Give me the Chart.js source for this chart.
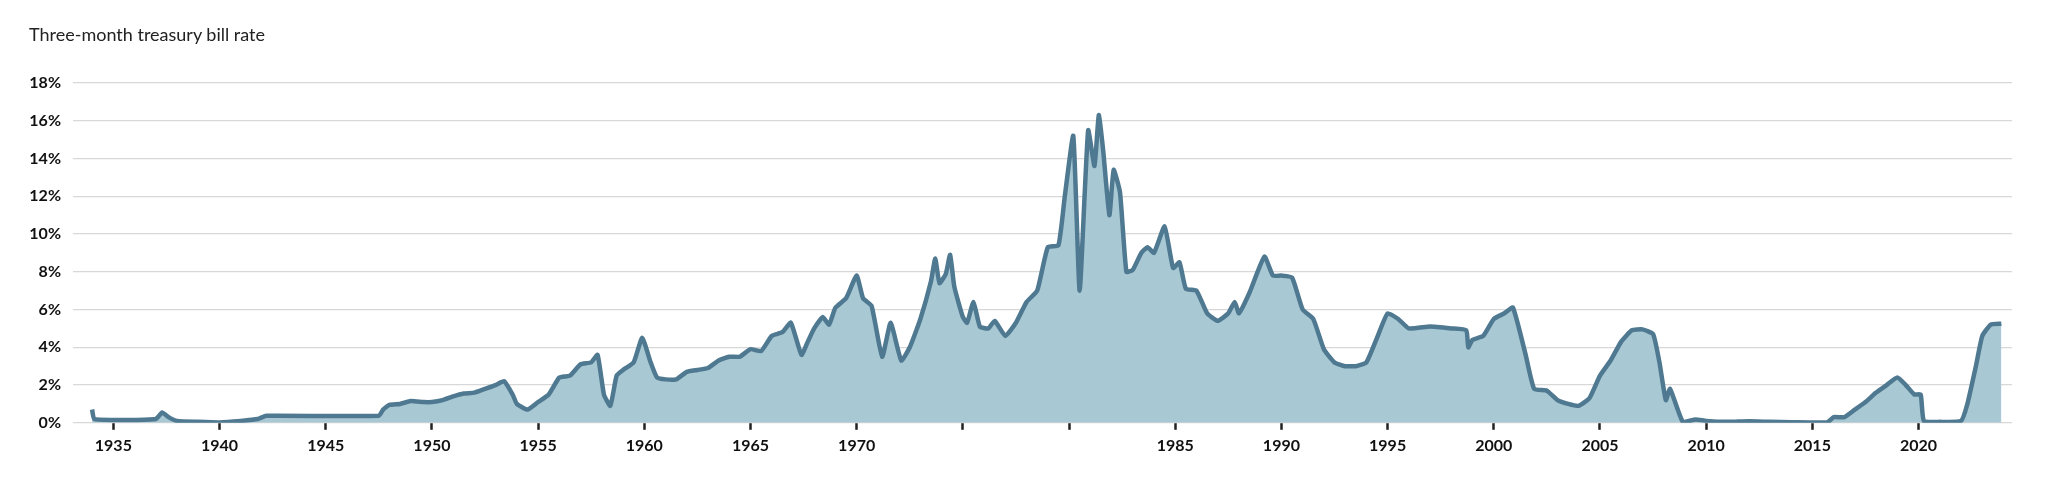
<!DOCTYPE html>
<html>
<head>
<meta charset="utf-8">
<script src="https://cdn.jsdelivr.net/npm/chart.js@4"></script>
<style>
  body{margin:0;background:#fff;}
  #wrap{position:relative;width:2048px;height:487px;}
  #title{position:absolute;left:29px;top:23px;font:18px Lato,"Open Sans",sans-serif;color:#222;}
</style>
</head>
<body>
<div id="wrap">
  <div id="title">Three-month treasury bill rate</div>
  <canvas id="myChart" width="2048" height="487"></canvas>
</div>
<script>
// readings: year (decimal) and rate in %
const years = [1934.0,1934.1,1935,1936,1937.0,1937.3,1937.6,1938,1939,1940,1941,1941.8,1942.2,1947.5,1947.7,1948,1948.5,1949,1949.6,1950,1950.5,1951,1951.5,1952,1952.5,1953,1953.4,1953.8,1954,1954.5,1955,1955.5,1956,1956.5,1957,1957.5,1957.8,1958.1,1958.4,1958.7,1959,1959.5,1959.9,1960.3,1960.6,1961,1961.5,1962,1962.5,1963,1963.5,1964,1964.5,1965,1965.5,1966,1966.5,1966.9,1967.4,1967.7,1968,1968.4,1968.7,1969,1969.5,1970,1970.3,1970.7,1971.2,1971.6,1972.1,1972.5,1973,1973.5,1973.7,1973.9,1974.2,1974.4,1974.6,1975.0,1975.2,1975.5,1975.8,1976.2,1976.5,1977.0,1977.5,1978,1978.5,1979,1979.5,1979.8,1980.2,1980.5,1980.9,1981.2,1981.4,1981.6,1981.9,1982.1,1982.4,1982.7,1983,1983.4,1983.7,1984,1984.5,1984.9,1985.2,1985.5,1986,1986.5,1987,1987.5,1987.8,1988,1988.5,1989.2,1989.6,1990,1990.5,1991,1991.5,1992,1992.5,1993,1993.5,1994,1994.5,1995,1995.5,1996,1997,1998,1998.7,1998.8,1999,1999.5,2000,2000.5,2000.9,2001.5,2001.9,2002.5,2003,2003.5,2004,2004.5,2005,2005.5,2006,2006.5,2007,2007.5,2007.8,2008.1,2008.3,2008.9,2009.5,2010,2011,2012,2013,2014,2015.7,2016,2016.5,2017,2017.5,2018,2018.5,2019,2019.4,2019.8,2020.1,2020.25,2021,2022,2022.3,2022.7,2023,2023.4,2023.9];
const rates = [0.7,0.2,0.15,0.15,0.2,0.55,0.3,0.1,0.05,0.02,0.1,0.2,0.37,0.37,0.7,0.95,1.0,1.15,1.1,1.1,1.2,1.4,1.55,1.6,1.8,2.0,2.2,1.5,1.0,0.7,1.1,1.5,2.4,2.5,3.1,3.2,3.6,1.5,0.9,2.5,2.8,3.2,4.5,3.2,2.4,2.3,2.3,2.7,2.8,2.9,3.3,3.5,3.5,3.9,3.8,4.6,4.8,5.3,3.6,4.3,5.0,5.6,5.2,6.1,6.6,7.8,6.6,6.2,3.5,5.3,3.3,4.0,5.5,7.5,8.7,7.4,7.9,8.9,7.2,5.6,5.3,6.4,5.1,5.0,5.4,4.6,5.3,6.4,7.0,9.3,9.4,12.0,15.2,7.0,15.5,13.6,16.3,14.5,11.0,13.4,12.2,8.0,8.1,9.0,9.3,9.0,10.4,8.2,8.5,7.1,7.0,5.8,5.4,5.8,6.4,5.8,6.9,8.8,7.8,7.8,7.7,6.0,5.5,3.9,3.2,3.0,3.0,3.2,4.5,5.8,5.5,5.0,5.1,5.0,4.9,4.0,4.4,4.6,5.5,5.8,6.1,3.6,1.8,1.7,1.2,1.0,0.9,1.3,2.5,3.3,4.3,4.9,4.95,4.7,3.2,1.2,1.8,0.05,0.18,0.1,0.05,0.08,0.05,0.03,0.02,0.3,0.3,0.7,1.1,1.6,2.0,2.4,2.0,1.5,1.5,0.1,0.05,0.1,1.0,3.0,4.6,5.2,5.25];
const tickYears = [1935,1940,1945,1950,1955,1960,1965,1970,1975,1980,1985,1990,1995,2000,2005,2010,2015,2020];
const unlabeledYears = [1975,1980];

const font = {family: 'Lato, "Open Sans", sans-serif', size: 16, weight: 'bold'};
const config = {
  type: 'line',
  data: {
    datasets: [{
      label: 'Three-month treasury bill rate',
      data: years.map((y, i) => ({x: y, y: rates[i]})),
      borderColor: '#4f7891',
      backgroundColor: '#a8c9d4',
      borderWidth: 4.5,
      fill: 'origin',
      pointRadius: 0,
      tension: 0.15
    }]
  },
  options: {
    animation: false,
    responsive: false,
    layout: {padding: {left: 20, right: 36, top: 83, bottom: 26}},
    plugins: {legend: {display: false}, tooltip: {enabled: false}},
    scales: {
      x: {
        type: 'linear',
        min: 1933.1,
        max: 2024.4,
        afterBuildTicks: (axis) => { axis.ticks = tickYears.map(v => ({value: v})); },
        ticks: {
          color: '#111', font: font, padding: 6, maxRotation: 0, autoSkip: false,
          callback: (v) => unlabeledYears.includes(v) ? '' : String(v)
        },
        grid: {drawOnChartArea: false, drawTicks: true, tickLength: 7, tickWidth: 2.5, tickColor: '#222'},
        border: {display: false}
      },
      y: {
        min: 0, max: 18,
        ticks: {stepSize: 2, color: '#111', font: font, padding: 12, callback: v => v + '%'},
        grid: {color: '#d8d8d8', lineWidth: 1.3, drawTicks: false},
        border: {display: false},
        afterFit: (axis) => { axis.width = 53; }
      }
    }
  }
};
new Chart(document.getElementById('myChart'), config);
</script>
</body>
</html>
